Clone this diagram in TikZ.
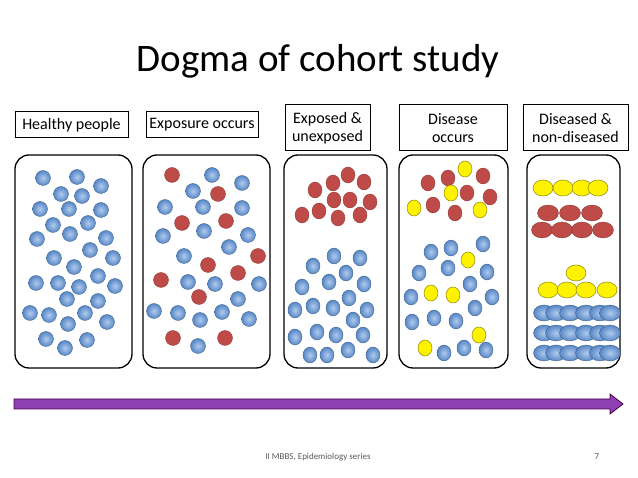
\documentclass[tikz,border=0pt]{standalone}
\usepackage{fontspec}
\setmainfont{Carlito}
\begin{document}
\begin{tikzpicture}[x=1pt,y=-1pt,
  panel/.style={draw=black,line width=1.3pt,rounded corners=14pt},
  lbl/.style={draw=black,line width=1pt,fill=white,align=center,font=\fontsize{16}{18}\selectfont,inner sep=0pt}]
\definecolor{bl}{RGB}{96,150,220}
\definecolor{rd}{RGB}{190,75,72}
\tikzset{bdot/.style={inner color=bl!50!white,outer color=bl!90!black,draw=bl!60!black,line width=0.3pt},
  rdot/.style={fill=rd,draw=rd!70!black,line width=0.3pt},
  ydot/.style={fill=yellow,draw=olive,line width=0.5pt}}
\useasboundingbox (0,0) rectangle (638,478);
\node (title) at (318,61) {\fontsize{39}{42}\selectfont Dogma of cohort study};
\node[lbl,minimum width=113pt,minimum height=26pt] (l1) at (71.5,125) {Healthy people};
\node[lbl,minimum width=112pt,minimum height=26pt] (l2) at (202,125) {Exposure occurs};
\node[lbl,minimum width=85pt,minimum height=46pt] (l3) at (327.5,128) {Exposed \&\\unexposed};
\node[lbl,minimum width=108pt,minimum height=46pt] (l4) at (453,128) {Disease\\occurs};
\node[lbl,minimum width=105pt,minimum height=46pt] (l5) at (575.5,128) {Diseased \&\\non-diseased};
\draw[panel] (15,155) rectangle (132,368);
\draw[panel] (143,155) rectangle (270,368);
\draw[panel] (284,155) rectangle (387,368);
\draw[panel] (399,155) rectangle (508,368);
\draw[panel] (527,155) rectangle (620,368);
% panel 1
\foreach \p in {(43,178),(77,177),(101,186),(61,194),(82,196),(40,209),(69,209),(101,210),(53,225),(88,223),(37,239),(70,234),(106,238),(90,250),(54,258),(74,267),(113,258),(36,283),(58,283),(79,287),(98,276),(115,286),(67,299),(98,301),(30,313),(49,315),(68,324),(85,313),(107,322),(46,339),(65,348),(87,340)}
  \draw[bdot] \p ellipse (7.5 and 7.5);
% panel 2
\foreach \p in {(212,175),(242,183),(193,191),(203,207),(165,207),(242,208),(163,236),(204,231),(248,235),(229,247),(184,256),(188,282),(215,284),(259,284),(238,299),(154,311),(178,313),(200,320),(222,312),(249,319),(198,346)}
  \draw[bdot] \p ellipse (7.5 and 7.5);
\foreach \p in {(172,175),(218,194),(182,223),(226,221),(258,256),(208,265),(238,273),(161,280),(199,297),(173,338),(225,338)}
  \draw[rdot] \p ellipse (7.5 and 7.5);
% panel 3
\foreach \p in {(315,190),(333,183),(348,175),(364,182),(334,200),(350,200),(370,202),(302,215),(319,211),(338,218),(360,215)}
  \draw[rdot] \p ellipse (7 and 8);
\foreach \p in {(313,266),(334,256),(360,258),(346,273),(329,282),(302,287),(364,284),(349,298),(295,310),(313,306),(333,308),(353,320),(367,310),(295,337),(317,332),(336,335),(363,335),(310,355),(327,355),(348,350),(373,355)}
  \draw[bdot] \p ellipse (7 and 8);
% panel 4
\foreach \p in {(428,183),(448,178),(483,176),(467,193),(490,197),(433,205),(455,213)}
  \draw[rdot] \p ellipse (7 and 8);
\foreach \p in {(431,252),(451,248),(483,244),(448,268),(419,273),(487,272),(470,284),(492,297),(411,297),(475,308),(412,322),(434,318),(456,321),(444,353),(464,348),(486,350)}
  \draw[bdot] \p ellipse (7 and 8);
\foreach \p in {(465,169),(451,193),(414,208),(480,210),(468,260),(431,293),(453,295),(479,335),(425,348)}
  \draw[ydot] \p ellipse (7 and 8);
% panel 5
\foreach \p in {(543,188),(563,188),(582,188),(598,188),(548,290),(567,290),(586,290),(607,290),(576,273)}
  \draw[ydot] \p ellipse (10 and 8);
\foreach \p in {(548,213),(570,213),(592,213),(542,230),(562,230),(582,230),(603,230)}
  \draw[rdot] \p ellipse (10.5 and 8);
\foreach \y in {313,333,353}
  \foreach \x in {544,556,570,586,600,610}
    \draw[bdot] (\x,\y) ellipse (10.5 and 8);
% arrow
\draw[draw=violet!60!black,fill=violet!70!white!85!blue,line width=0.8pt]
  (14,399) -- (610,399) -- (610,394) -- (623,404) -- (610,414) -- (610,409) -- (14,409) -- cycle;
\node[text=gray!70!black,font=\fontsize{9}{11}\selectfont] (foot) at (318,457) {II MBBS, Epidemiology series};
\node[text=gray!70!black,font=\fontsize{9}{11}\selectfont] (pg) at (597,457) {7};
\end{tikzpicture}
\end{document}
